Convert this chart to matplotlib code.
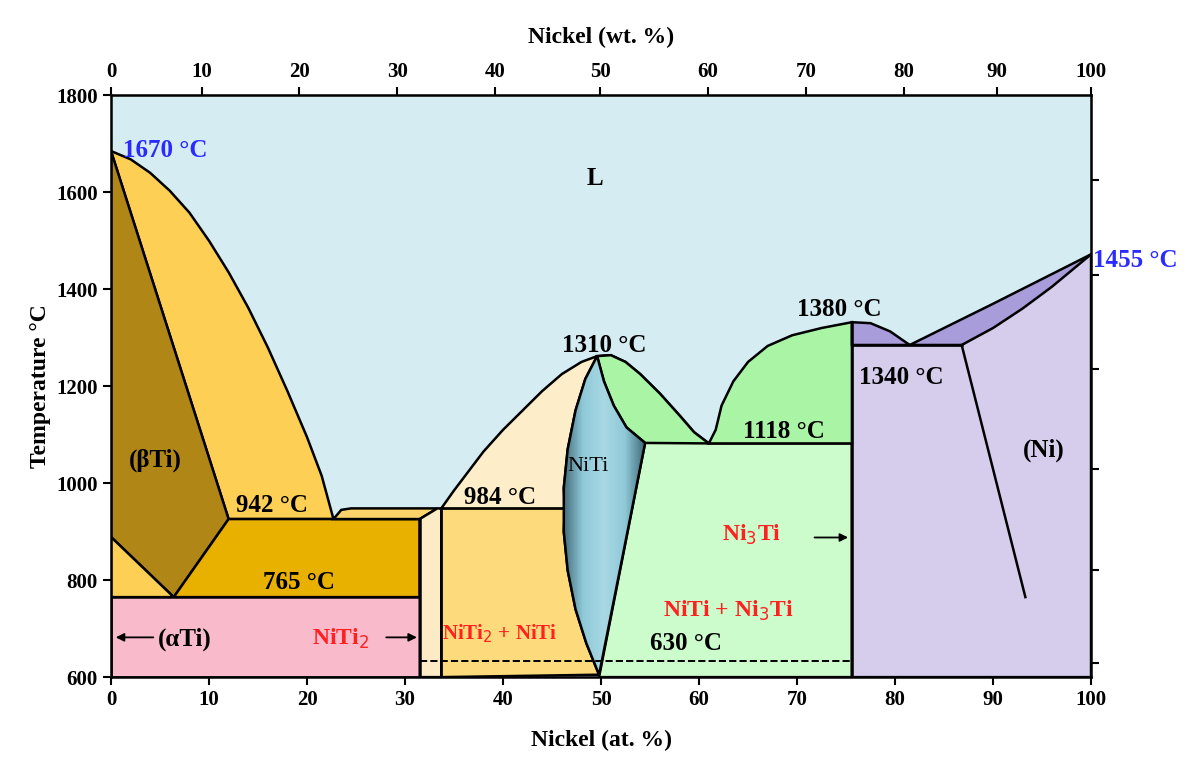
import matplotlib.pyplot as plt
import numpy as np
from matplotlib.patches import Polygon
from matplotlib.colors import LinearSegmentedColormap

plt.rcParams['font.family'] = ['Liberation Serif', 'DejaVu Serif']

# phase boundaries: (at.% Ni, temperature C)
liq_left = [(0, 1685), (2, 1668), (4, 1640), (6, 1603), (8, 1558), (10, 1500),
            (12, 1435), (14, 1362), (16, 1280), (18, 1190), (20, 1095), (21.5, 1015), (22.7, 926)]
sol_bti = [(0, 1685), (12, 926)]
bti_low = [(0, 889), (6.4, 765), (12, 926)]
liq_niti_l = [(33.7, 948), (35, 985), (36.5, 1025), (38, 1065), (40, 1110), (42, 1150),
              (44, 1190), (46, 1225), (48, 1250), (49.6, 1262)]
niti_left = [(49.6, 1262), (48.4, 1215), (47.4, 1150), (46.6, 1070), (46.2, 990), (46.2, 900),
             (46.6, 820), (47.4, 740), (48.5, 670), (49.8, 605)]
niti_right = [(49.6, 1262), (50.3, 1210), (51.3, 1160), (52.6, 1115), (54.5, 1083), (49.8, 605)]
liq_mid = [(49.6, 1262), (51, 1264), (52.5, 1250), (54, 1225), (56, 1185), (58, 1140),
           (59.5, 1105), (61, 1082)]
liq_ni3ti = [(61, 1082), (61.7, 1110), (62.3, 1160), (63.5, 1210), (65, 1250), (67, 1283),
             (69.5, 1305), (72.5, 1320), (75.6, 1332)]
liq_ni3ti_r = [(75.6, 1332), (77.5, 1330), (79.5, 1313), (81.5, 1285)]
liq_ni = [(81.5, 1285), (90, 1370), (100, 1472)]
sol_ni = [(86.8, 1285), (90, 1320), (93, 1360), (96, 1405), (100, 1472)]
solv_ni = [(86.8, 1285), (93.3, 765)]

wt_pos = [0, 9.3, 19.2, 29.2, 39.2, 49.9, 60.9, 70.9, 80.9, 90.4, 100]
wt_lab = [0, 10, 20, 30, 40, 50, 60, 70, 80, 90, 100]

fig = plt.figure(figsize=(12, 7.81), dpi=100)
ax = fig.add_axes([0.0925, 0.133, 0.8167, 0.745])
ax.set_xlim(0, 100)
ax.set_ylim(600, 1800)
ax.set_facecolor('#d5ecf2')

def poly(pts, fc, z=1):
    ax.add_patch(Polygon(pts, closed=True, fc=fc, ec='black', lw=1.8, zorder=z))

poly(liq_left + [(12, 926)] + sol_bti[::-1], '#fdd055')
poly(sol_bti + bti_low[::-1], '#b08716')
poly([(0, 889), (6.4, 765), (0, 765)], '#fdd055')
poly([(6.4, 765), (12, 926), (31.5, 926), (31.5, 765)], '#e8b100')
poly([(0, 600), (0, 765), (31.5, 765), (31.5, 600)], '#f9bacb')
poly([(22.7, 926), (23.5, 945), (24.5, 948), (33.3, 948), (31.5, 926)], '#fdd46a')
poly([(31.5, 600), (31.5, 926), (33.3, 948), (33.7, 948), (33.7, 600)], '#fdebc5')
poly([(33.7, 600), (33.7, 948), (46.3, 948)] + niti_left[5:], '#fddb7c')
poly(liq_niti_l + niti_left[1:5] + [(46.3, 948)], '#fdeec9')
poly(liq_mid + [(75.6, 1082), (75.6, 600), (49.8, 600)] + niti_right[1:-1][::-1], '#cdfccc')
poly(liq_mid + niti_right[1:-1][::-1], '#a9f5a5', 2)
poly(liq_ni3ti + [(75.6, 1082)], '#a9f5a5', 2)
poly([(86.8, 1285), (100, 1472), (100, 600), (75.6, 600), (75.6, 1285)], '#d6cdec', 1)
poly([(75.6, 1285)] + liq_ni3ti_r, '#a99cdb', 2)
poly(liq_ni + sol_ni[::-1], '#a99cdb', 2)
ax.plot(*zip(*solv_ni), color='black', lw=1.8, zorder=3)
ax.plot([75.6, 86.8], [1285, 1285], color='black', lw=1.8, zorder=3)

# NiTi lens with gradient
lens = niti_left[::-1][:-1] + niti_right
p = Polygon(lens, closed=True, fc='none', ec='black', lw=1.8, zorder=4)
ax.add_patch(p)
cm = LinearSegmentedColormap.from_list('niti', ['#3f6674', '#8fc9d8', '#a8d8e4'])
grad = np.linspace(0, 1, 100)
g = (1 - np.abs(grad - 0.5) * 2)[None, :] * np.ones((50, 1))
im = ax.imshow(g, extent=[46, 54.5, 600, 1265], cmap=cm, aspect='auto', zorder=3)
im.set_clip_path(p)

ax.plot([31.5, 75.6], [633, 633], ls='--', color='black', lw=1.4, zorder=5)
for x, t in ((31.5, 926), (33.7, 948), (75.6, 1332)):
    ax.plot([x, x], [600, t], color='black', lw=1.8, zorder=5)

tb = dict(fontsize=18, fontweight='bold', zorder=6)
red = dict(color='#ff2020', fontsize=17, fontweight='bold', zorder=6)
ax.text(1.2, 1672, '1670 °C', color='#2b2bff', **tb)
ax.text(100.2, 1445, '1455 °C', color='#2b2bff', clip_on=False, **tb)
ax.text(48.5, 1615, 'L', fontsize=18, fontweight='bold', zorder=6)
ax.text(12.8, 940, '942 °C', **tb)
ax.text(15.5, 782, '765 °C', **tb)
ax.text(36, 958, '984 °C', **tb)
ax.text(46, 1270, '1310 °C', **tb)
ax.text(70, 1345, '1380 °C', **tb)
ax.text(64.5, 1093, '1118 °C', **tb)
ax.text(76.3, 1205, '1340 °C', **tb)
ax.text(55, 655, '630 °C', **tb)
ax.text(1.8, 1035, '(βTi)', **tb)
ax.text(93, 1055, '(Ni)', **tb)
ax.text(4.8, 666, '(αTi)', **tb)
ax.text(46.6, 1025, 'NiTi', fontsize=16, zorder=6)
ax.text(20.5, 666, 'NiTi$_2$', **red)
ax.text(33.8, 678, 'NiTi$_2$ + NiTi', color='#ff2020', fontsize=15, fontweight='bold', zorder=6)
ax.text(56.3, 725, 'NiTi + Ni$_3$Ti', **red)
ax.text(62.3, 882, 'Ni$_3$Ti', **red)
arr = dict(arrowstyle='-|>', color='black', lw=1.3, mutation_scale=12)
ax.annotate('', xy=(0.2, 682), xytext=(4.6, 682), arrowprops=arr, zorder=6)
ax.annotate('', xy=(31.5, 682), xytext=(27.8, 682), arrowprops=arr, zorder=6)
ax.annotate('', xy=(75.5, 888), xytext=(71.5, 888), arrowprops=arr, zorder=6)

ax.set_xticks(range(0, 101, 10))
ax.set_yticks(range(600, 1801, 200))
ax.tick_params(labelsize=15, width=1.5, length=6)
for lab in ax.get_xticklabels() + ax.get_yticklabels():
    lab.set_fontweight('bold')
ax.set_xlabel('Nickel (at. %)', fontsize=17, fontweight='bold', labelpad=14)
ax.set_ylabel('Temperature °C', fontsize=17, fontweight='bold', labelpad=4)
for s in ax.spines.values():
    s.set_linewidth(1.8)

top = ax.secondary_xaxis('top')
top.set_xticks(wt_pos, [str(v) for v in wt_lab])
top.tick_params(labelsize=15, width=1.5, length=6)
for lab in top.get_xticklabels():
    lab.set_fontweight('bold')
top.set_xlabel('Nickel (wt. %)', fontsize=17, fontweight='bold', labelpad=14)

right = ax.secondary_yaxis('right')
right.set_yticks([1625, 1430, 1235, 1030, 820, 630], [''] * 6)
right.tick_params(width=1.5, length=6)

fig.savefig('out.png', dpi=100)
